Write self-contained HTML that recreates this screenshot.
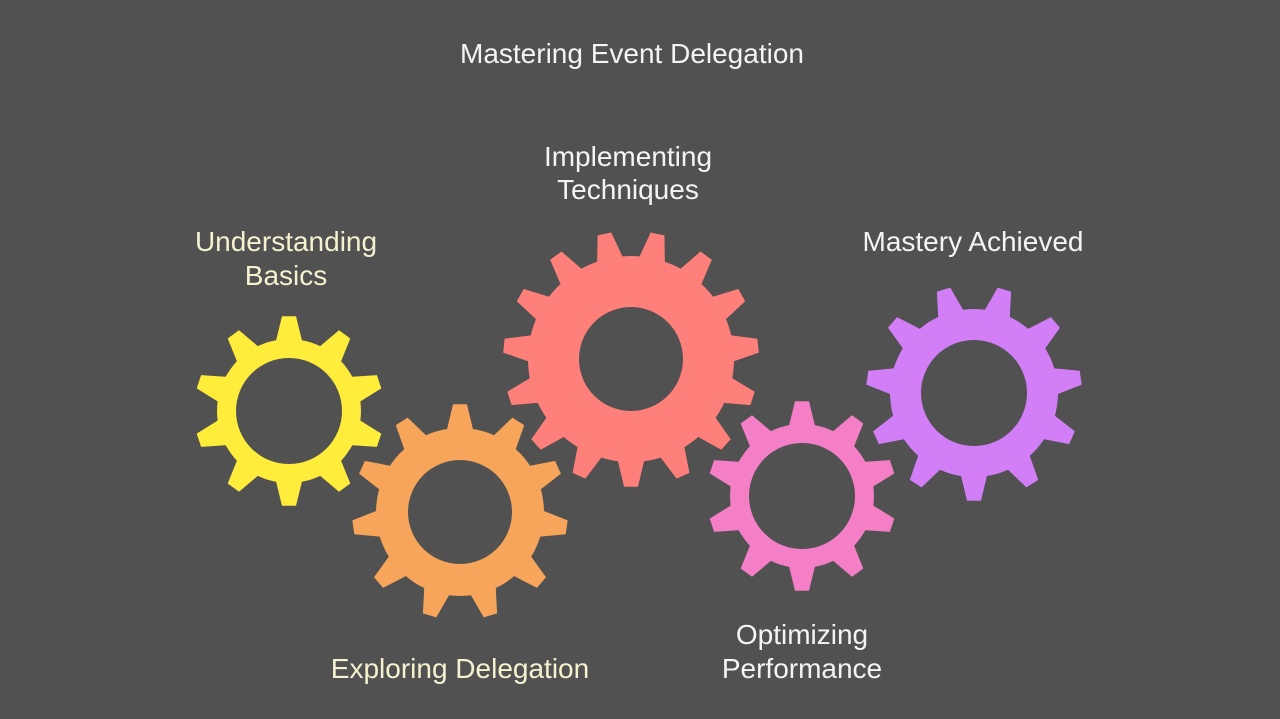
<!DOCTYPE html>
<html><head><meta charset="utf-8"><style>
html,body{margin:0;padding:0;background:#515151;}
svg{display:block}
text{font-family:"Liberation Sans",sans-serif;font-size:28px;text-anchor:middle;}
</style></head><body>
<svg id="s" width="1280" height="719" viewBox="0 0 1280 719" xmlns="http://www.w3.org/2000/svg">
<rect width="1280" height="719" fill="#515151"/>
<g id="gears"></g>
<text x="632" y="63" fill="#f4f4f4">Mastering Event Delegation</text>
<text x="628" y="166" fill="#f4f4f4">Implementing</text>
<text x="628" y="199" fill="#f4f4f4">Techniques</text>
<text x="286" y="251" fill="#f6f1cf">Understanding</text>
<text x="286" y="285" fill="#f6f1cf">Basics</text>
<text x="973" y="251" fill="#f4f4f4">Mastery Achieved</text>
<text x="460" y="678" fill="#f6f1cf">Exploring Delegation</text>
<text x="802" y="644" fill="#f4f4f4">Optimizing</text>
<text x="802" y="678" fill="#f4f4f4">Performance</text>
</svg>
<script>
var gears=[
 {cx:289,cy:411,R:95,r:72,h:53,n:10,top:true,c:"#ffec3b"},
 {cx:460,cy:512,R:108,r:84,h:52,n:11,top:true,c:"#f6a55a"},
 {cx:631,cy:359,R:128,r:103,h:52,n:15,top:false,c:"#ff7f7a"},
 {cx:802,cy:496,R:95,r:72,h:53,n:10,top:true,c:"#f47fc6"},
 {cx:974,cy:393,R:108,r:84,h:53,n:11,top:false,c:"#d17ef7"}
];
var g=document.getElementById("gears"),html="";
gears.forEach(function(o){
 var pts=[],step=2*Math.PI/o.n,ph=o.top?-Math.PI/2:Math.PI/2;
 var tb=13/o.r,tt=7/o.R;
 for(var i=0;i<o.n;i++){
  var a=ph+i*step;
  [[o.r,a-tb],[o.R,a-tt],[o.R,a+tt],[o.r,a+tb]].forEach(function(p){
   pts.push((o.cx+p[0]*Math.cos(p[1])).toFixed(1)+","+(o.cy+p[0]*Math.sin(p[1])).toFixed(1));});
  for(var k=1;k<4;k++){var b=a+tb+(step-2*tb)*k/4;
   pts.push((o.cx+o.r*Math.cos(b)).toFixed(1)+","+(o.cy+o.r*Math.sin(b)).toFixed(1));}
 }
 html+='<polygon points="'+pts.join(" ")+'" fill="'+o.c+'"/>';
 html+='<circle cx="'+o.cx+'" cy="'+o.cy+'" r="'+o.h+'" fill="#515151"/>';
});
g.innerHTML=html;
</script>
</body></html>
